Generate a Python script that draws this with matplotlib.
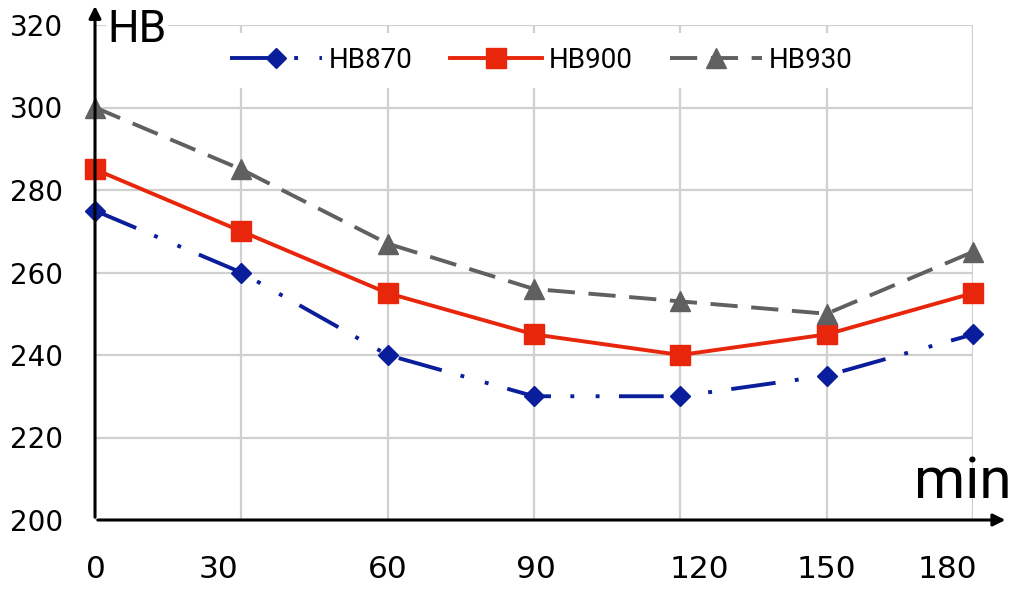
import numpy as np
import matplotlib.pyplot as plt
from matplotlib import font_manager
from matplotlib.transforms import ScaledTranslation

minutes = [0, 30, 60, 90, 120, 150, 180]
hb870 = [275, 260, 240, 230, 230, 235, 245]
hb900 = [285, 270, 255, 245, 240, 245, 255]
hb930 = [300, 285, 267, 256, 253, 250, 265]
y_ticks = [200, 220, 240, 260, 280, 300, 320]

# small horizontal nudges (px) of the x tick labels, as in the original picture
x_label_shift = [1, -23, 0, 2, 19, 0, -26]

names = {f.name for f in font_manager.fontManager.ttflist}
narrow = "Liberation Sans Narrow" if "Liberation Sans Narrow" in names else "Roboto"

fig = plt.figure(figsize=(10.2, 5.92), dpi=100)
ax = fig.add_axes([95/1020, 72/592, 878/1020, 495/592])

ax.plot(minutes, hb870, color="#0a1e9c", lw=2.8, ls=(0, (11.5, 5, 1, 5.5, 1, 5)),
        marker="D", ms=10.5, clip_on=False, zorder=4, label="HB870")
ax.plot(minutes, hb900, color="#e8260c", lw=2.8, ls="-",
        marker="s", ms=14, clip_on=False, zorder=4, label="HB900")
ax.plot(minutes, hb930, color="#606060", lw=2.8, ls=(0, (7, 3.5)),
        marker="^", ms=15, clip_on=False, zorder=4, label="HB930")

ax.set_xlim(0, 180)
ax.set_ylim(200, 320)
ax.set_xticks(minutes)
ax.set_yticks(y_ticks)
ax.tick_params(axis="both", length=0)
ax.tick_params(axis="x", pad=25, labelsize=22.5)
ax.tick_params(axis="y", pad=23, labelsize=20)
for lab, dx in zip(ax.get_xticklabels(), x_label_shift):
    lab.set_transform(lab.get_transform() + ScaledTranslation(dx/100, 0, fig.dpi_scale_trans))
ax.grid(True, color="#d0d0d0", lw=1.6)
ax.set_axisbelow(True)
for s in ["top", "right", "left", "bottom"]:
    ax.spines[s].set_visible(False)

# axes with arrows
ax.annotate("", xy=(1.04, 0), xycoords="axes fraction", xytext=(0, 0),
            arrowprops=dict(arrowstyle="-|>", lw=2.2, color="black", mutation_scale=18),
            zorder=5)
ax.annotate("", xy=(0, 1.044), xycoords="axes fraction", xytext=(0, 0),
            arrowprops=dict(arrowstyle="-|>", lw=2.2, color="black", mutation_scale=18),
            zorder=5)

ax.text(0.0137, 315.9, "HB", transform=ax.get_yaxis_transform(), fontsize=32,
        family=narrow, va="baseline", ha="left",
        bbox=dict(facecolor="white", edgecolor="none", pad=1), zorder=3)
ax.text(1.0444, 205.3, "min", transform=ax.get_yaxis_transform(), fontsize=42,
        family=narrow, va="baseline", ha="right", zorder=3)

leg = ax.legend(loc="center", bbox_to_anchor=(0.5085, 0.929), ncol=3,
                prop={"family": narrow, "size": 20},
                frameon=True, handlelength=3.3, handletextpad=0.25, columnspacing=1.35,
                borderpad=0.5)
leg.get_frame().set_edgecolor("none")
leg.get_frame().set_facecolor("white")
leg.get_frame().set_alpha(1)

fig.savefig("out.png", dpi=100)
